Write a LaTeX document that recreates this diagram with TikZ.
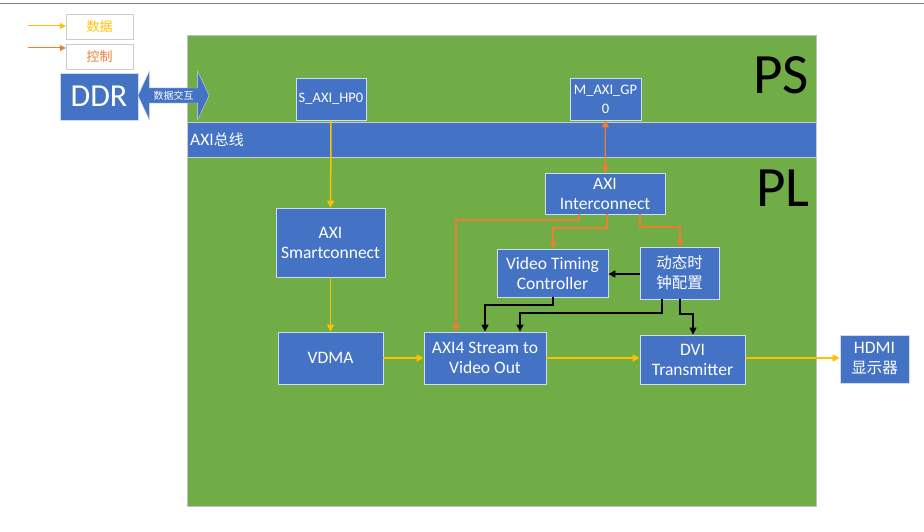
\documentclass[tikz,border=0pt]{standalone}
\usepackage{fontspec}
\setmainfont{Carlito}
\newfontfamily\cjk{Noto Sans CJK SC}
\usetikzlibrary{arrows.meta,shapes.arrows}
\definecolor{bl}{HTML}{4472C4}
\definecolor{gr}{HTML}{70AD47}
\definecolor{yl}{HTML}{FFC000}
\definecolor{og}{HTML}{ED7D31}
\begin{document}
\begin{tikzpicture}[x=1pt,y=-1pt,
 blk/.style={draw=white!75!bl,line width=0.8pt,fill=bl,text=white,font=\fontsize{17.5}{20}\selectfont,align=center,inner sep=0},
 dat/.style={yl,line width=1.5pt,-{Triangle[length=7pt,width=7pt]}},
 ctl/.style={og,line width=1.2pt,-{Triangle[length=7pt,width=7pt]}},
 blk2/.style={black,line width=1.2pt,-{Triangle[length=7pt,width=7pt]}}]
\useasboundingbox (0,0) rectangle (924,532);
\draw[gray,line width=1pt] (0,4) -- (924,4);
% legend
\node[draw=black!20,minimum width=67pt,minimum height=25pt,text=yl,font=\cjk\fontsize{13}{15}\selectfont,inner sep=0] (ld) at (99.5,26.5) {数据};
\node[draw=black!20,minimum width=67pt,minimum height=25pt,text=og,font=\cjk\fontsize{13}{15}\selectfont,inner sep=0] (lc) at (99.5,56.5) {控制};
\coordinate (ld0) at (28,26); \coordinate (lc0) at (28,48);
\draw[yl,line width=1pt,-{Triangle[length=6pt,width=6pt]}] (ld0) -- (ld.west|-ld0);
\draw[og,line width=1pt,-{Triangle[length=6pt,width=6pt]}] (lc0) -- (lc.west|-lc0);
% PS area
\fill[gr,draw=black!25] (187,35) rectangle (816,506);
\node[font=\fontsize{57}{60}\selectfont,anchor=center] (ps) at (781,75) {PS};
\node[font=\fontsize{57}{60}\selectfont,anchor=center] (pl) at (783,188) {PL};
\node[fill=bl,draw=black!20,minimum width=629pt,minimum height=35pt,anchor=north west,inner sep=0] (bus) at (187,122) {};
\node[text=white,anchor=west,font=\fontsize{17.5}{20}\selectfont,inner sep=3pt] (bust) at (187,139.5) {AXI{\cjk\fontsize{15}{18}\selectfont 总线}};
% DDR
\node[blk,minimum width=78pt,minimum height=47pt,font=\fontsize{32}{34}\selectfont] (ddr) at (99,96.5) {DDR};
\node[double arrow,fill=bl,draw=white!70!bl,minimum width=49pt,double arrow head extend=11pt,double arrow tip angle=130,minimum height=71pt,inner sep=0,text=white,font=\cjk\fontsize{10}{12}\selectfont] (xch) at (173.5,95.5) {数据交互};
% blocks
\node[blk,minimum width=70pt,minimum height=42pt,font=\fontsize{14.5}{17}\selectfont] (hp) at (331,99) {S\_AXI\_HP0};
\node[blk,minimum width=71pt,minimum height=42pt,font=\fontsize{14.5}{19}\selectfont] (gp) at (605.5,99) {M\_AXI\_GP\\0};
\node[blk,minimum width=120pt,minimum height=41pt] (ic) at (605,193.5) {AXI\\Interconnect};
\node[blk,minimum width=109pt,minimum height=69pt] (sc) at (330.5,242.5) {AXI\\Smartconnect};
\node[blk,minimum width=111pt,minimum height=48pt] (vtc) at (552.5,273) {Video Timing\\Controller};
\node[blk,minimum width=79pt,minimum height=52pt,font=\cjk\fontsize{15.5}{20}\selectfont] (clk) at (679.5,273) {动态时\\钟配置};
\node[blk,minimum width=105pt,minimum height=52pt] (vdma) at (330.5,358) {VDMA};
\node[blk,minimum width=122pt,minimum height=52pt] (s2v) at (485,358) {AXI4 Stream to\\Video Out};
\node[blk,minimum width=105pt,minimum height=49pt] (dvi) at (692.5,359.5) {DVI\\Transmitter};
\node[blk,minimum width=69pt,minimum height=48pt] (hdmi) at (874.5,359) {HDMI\\{\cjk\fontsize{15.5}{20}\selectfont 显示器}};
% data
\draw[dat] (hp) -- (sc);
\draw[dat] (sc) -- (vdma);
\draw[dat] (vdma) -- (s2v);
\draw[dat] (s2v) -- (dvi.west|-s2v);
\draw[dat] (dvi.east|-s2v) -- (hdmi.west|-s2v);
% control
\draw[og,line width=1.2pt,{Triangle[length=7pt,width=7pt]}-{Triangle[length=7pt,width=7pt]}] (gp) -- (ic);
\draw[ctl] (ic.south-|579,0) |- (456,220) -- (s2v.north-|456,0);
\draw[ctl] (ic.south-|607,0) |- (553,228) -- (vtc.north-|553,0);
\draw[ctl] (ic.south-|640,0) |- (680,227) -- (clk.north-|680,0);
% black
\draw[blk2] (clk.west|-0,274) -- (vtc.east|-0,274);
\draw[blk2] (vtc.south-|553,0) |- (485,305) -- (s2v.north-|485,0);
\draw[blk2] (clk.south-|662,0) |- (520,313) -- (s2v.north-|520,0);
\draw[blk2] (clk.south-|680,0) |- (693,314) -- (dvi.north-|693,0);
\end{tikzpicture}
\end{document}
